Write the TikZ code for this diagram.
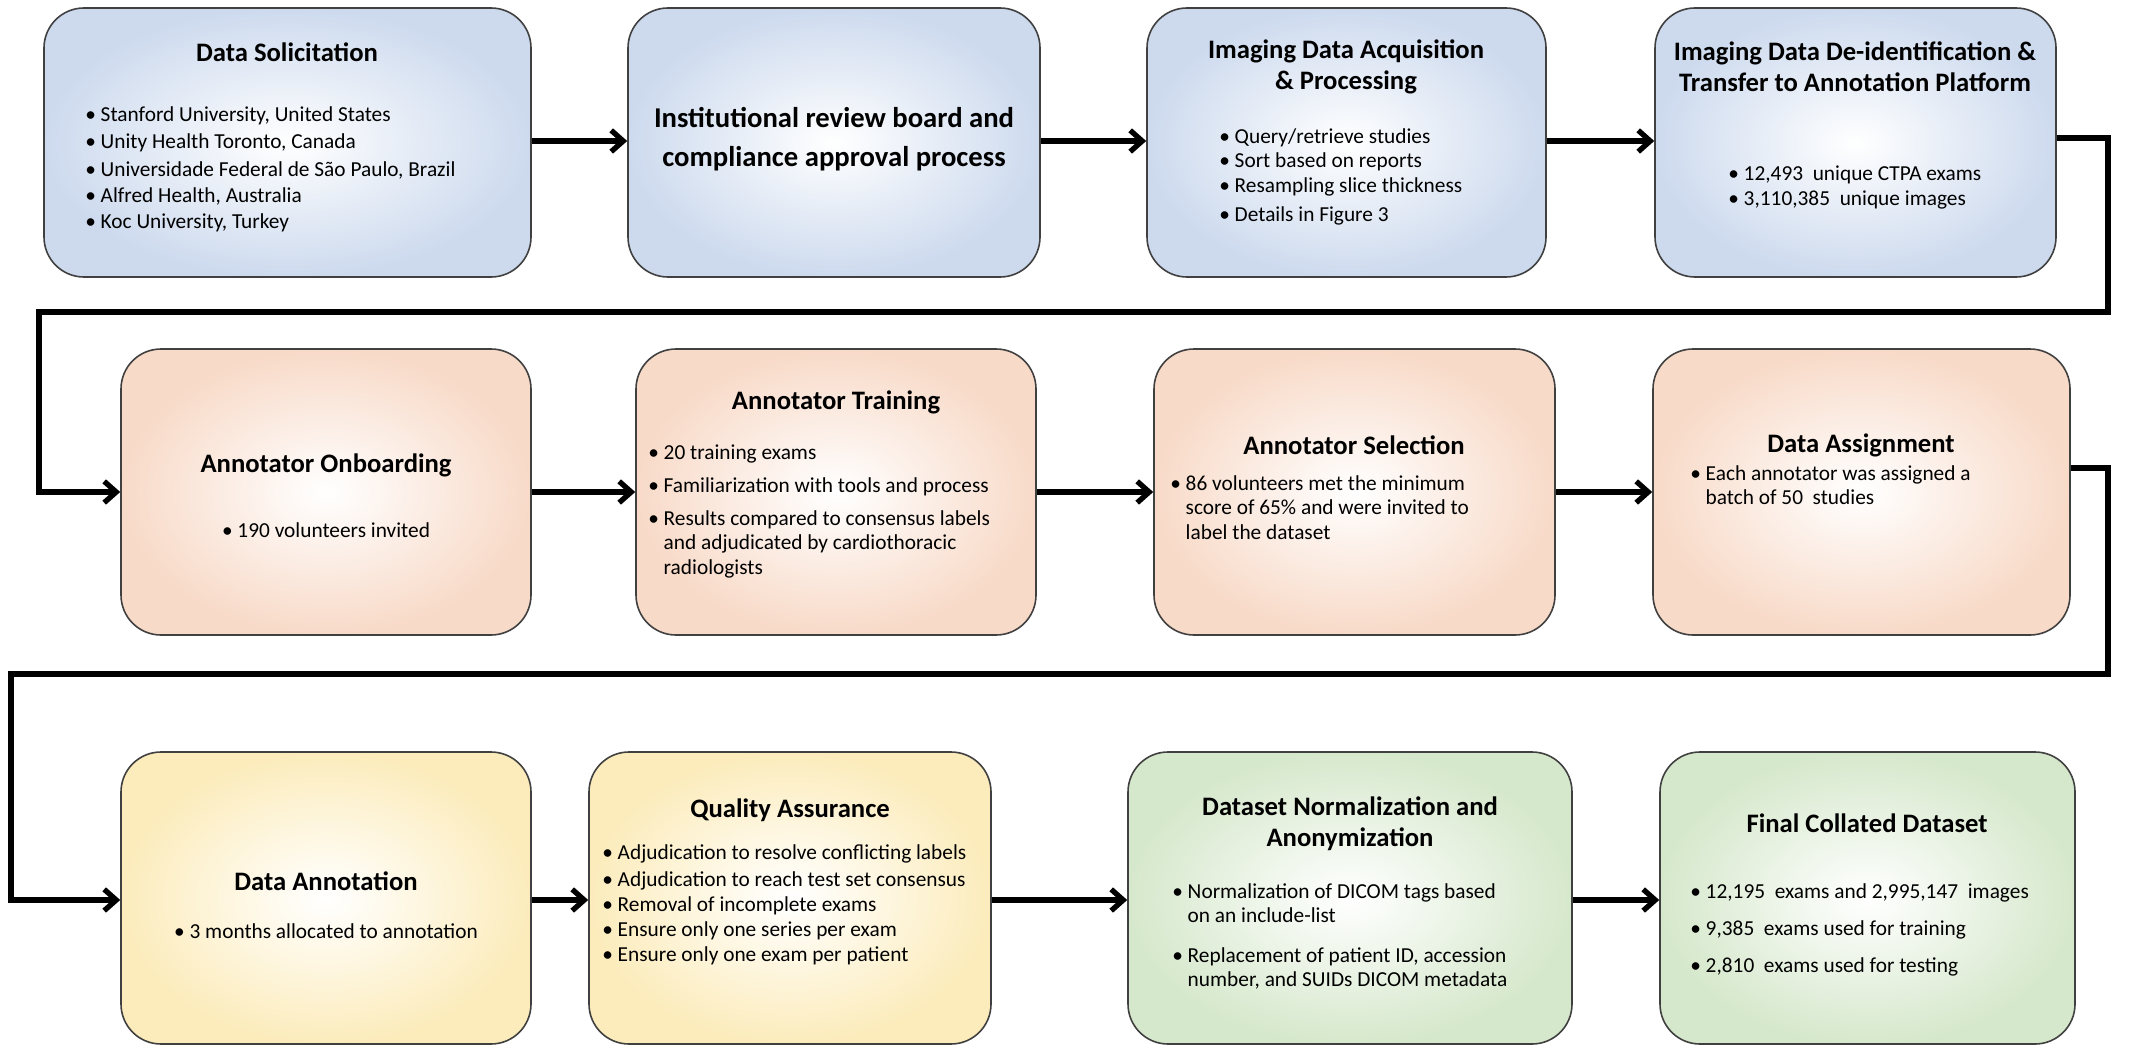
\documentclass[tikz,border=0pt]{standalone}
\usepackage{fontspec}
\setmainfont{Carlito}
\usetikzlibrary{fit,arrows.meta,positioning}
\definecolor{cb}{RGB}{205,218,238}
\definecolor{cp}{RGB}{248,218,200}
\definecolor{cy}{RGB}{252,236,188}
\definecolor{cg}{RGB}{214,232,204}
\begin{document}
\begin{tikzpicture}[x=0.75pt,y=-0.75pt,
 box/.style={draw=black!75,line width=1.2pt,rounded corners=30pt,inner sep=0pt,inner color=white},
 bl/.style={outer color=cb},bp/.style={outer color=cp},by/.style={outer color=cy},bg/.style={outer color=cg},
 ttl/.style={font=\bfseries\fontsize{20}{23}\selectfont,align=center},
 big/.style={font=\bfseries\fontsize{21.5}{29}\selectfont,align=center},
 it/.style={font=\fontsize{16}{18.5}\selectfont,anchor=west,align=left,inner sep=0pt},
 itc/.style={font=\fontsize{16}{18.5}\selectfont,align=center,inner sep=0pt},
 arr/.style={line width=4pt,-{Straight Barb[length=9pt,width=16pt,line width=4pt]}}]
\useasboundingbox (0,0) rectangle (2134,1052);
% row 1
\node[box,bl,fit={(44,8)(531,277)}] (a1) {};
\node[box,bl,fit={(628,8)(1040,277)}] (a2) {};
\node[box,bl,fit={(1147,8)(1546,277)}] (a3) {};
\node[box,bl,fit={(1655,8)(2056,277)}] (a4) {};
% row 2
\node[box,bp,fit={(121,349)(531,635)}] (b1) {};
\node[box,bp,fit={(636,349)(1036,635)}] (b2) {};
\node[box,bp,fit={(1154,349)(1555,635)}] (b3) {};
\node[box,bp,fit={(1653,349)(2070,635)}] (b4) {};
% row 3
\node[box,by,fit={(121,752)(531,1044)}] (c1) {};
\node[box,by,fit={(589,752)(991,1044)}] (c2) {};
\node[box,bg,fit={(1128,752)(1572,1044)}] (c3) {};
\node[box,bg,fit={(1660,752)(2075,1044)}] (c4) {};
% texts row 1
\node[ttl] (t1) at (287,52) {Data Solicitation};
\node[it] (s1) at (85,116) {• Stanford University, United States};
\node[it] (s2) at (85,143) {• Unity Health Toronto, Canada};
\node[it] (s3) at (85,170) {• Universidade Federal de São Paulo, Brazil};
\node[it] (s4) at (85,196) {• Alfred Health, Australia};
\node[it] (s5) at (85,223) {• Koc University, Turkey};
\node[big] (t2) at (834,139) {Institutional review board and\\compliance approval process};
\node[ttl] (t3) at (1346,67) {Imaging Data Acquisition\\\& Processing};
\node[it] (q1) at (1219,138) {• Query/retrieve studies};
\node[it] (q2) at (1219,162) {• Sort based on reports};
\node[it] (q3) at (1219,187) {• Resampling slice thickness};
\node[it] (q4) at (1219,216) {• Details in Figure 3};
\node[ttl] (t4) at (1855,67) {Imaging Data De-identification \&\\Transfer to Annotation Platform};
\node[it] (d1) at (1728,175) {• 12,493 \ unique CTPA exams};
\node[it] (d2) at (1728,200) {• 3,110,385 \ unique images};
% texts row 2
\node[ttl] (u1) at (326,465) {Annotator Onboarding};
\node[itc] (v1) at (326,530) {• 190 volunteers invited};
\node[ttl] (u2) at (836,402) {Annotator Training};
\node[it] (w1) at (648,454) {• 20 training exams};
\node[it] (w2) at (648,487) {• Familiarization with tools and process};
\node[it,anchor=north west] (w3) at (648,510) {• Results compared to consensus labels\\\phantom{• }and adjudicated by cardiothoracic\\\phantom{• }radiologists};
\node[ttl] (u3) at (1354,445) {Annotator Selection};
\node[it,anchor=north west] (x1) at (1170,475) {• 86 volunteers met the minimum\\\phantom{• }score of 65\% and were invited to\\\phantom{• }label the dataset};
\node[ttl] (u4) at (1861,445) {Data Assignment};
\node[it,anchor=north west] (y1) at (1690,465) {• Each annotator was assigned a\\\phantom{• }batch of 50 \ studies};
% texts row 3
\node[ttl] (r1) at (326,881) {Data Annotation};
\node[itc] (z1) at (326,931) {• 3 months allocated to annotation};
\node[ttl] (r2) at (790,810) {Quality Assurance};
\node[it] (g1) at (602,854) {• Adjudication to resolve conflicting labels};
\node[it] (g2) at (602,881) {• Adjudication to reach test set consensus};
\node[it] (g3) at (602,906) {• Removal of incomplete exams};
\node[it] (g4) at (602,931) {• Ensure only one series per exam};
\node[it] (g5) at (602,956) {• Ensure only one exam per patient};
\node[ttl] (r3) at (1350,824) {Dataset Normalization and\\Anonymization};
\node[it,anchor=north west] (h1) at (1172,883) {• Normalization of DICOM tags based\\\phantom{• }on an include-list};
\node[it,anchor=north west] (h2) at (1172,947) {• Replacement of patient ID, accession\\\phantom{• }number, and SUIDs DICOM metadata};
\node[ttl] (r4) at (1867,823) {Final Collated Dataset};
\node[it] (k1) at (1690,893) {• 12,195 \ exams and 2,995,147 \ images};
\node[it] (k2) at (1690,930) {• 9,385 \ exams used for training};
\node[it] (k3) at (1690,967) {• 2,810 \ exams used for testing};
% connectors
\draw[arr] (a1.east|-0,141) -- (a2.west|-0,141);
\draw[arr] (a2.east|-0,141) -- (a3.west|-0,141);
\draw[arr] (a3.east|-0,141) -- (a4.west|-0,141);
\coordinate (p1) at (2108,138);
\coordinate (p2) at (2108,312);
\coordinate (p3) at (39,312);
\coordinate (p4) at (39,492);
\draw[arr] (a4.east|-p1) -- (p1) -- (p2) -- (p3) -- (p4) -- (b1.west|-p4);
\draw[arr] (b1.east|-0,492) -- (b2.west|-0,492);
\draw[arr] (b2.east|-0,492) -- (b3.west|-0,492);
\draw[arr] (b3.east|-0,492) -- (b4.west|-0,492);
\coordinate (q1c) at (2108,468);
\coordinate (q2c) at (2108,674);
\coordinate (q3c) at (11,674);
\coordinate (q4c) at (11,900);
\draw[arr] (b4.east|-q1c) -- (q1c) -- (q2c) -- (q3c) -- (q4c) -- (c1.west|-q4c);
\draw[arr] (c1.east|-0,900) -- (c2.west|-0,900);
\draw[arr] (c2.east|-0,900) -- (c3.west|-0,900);
\draw[arr] (c3.east|-0,900) -- (c4.west|-0,900);
\end{tikzpicture}
\end{document}
